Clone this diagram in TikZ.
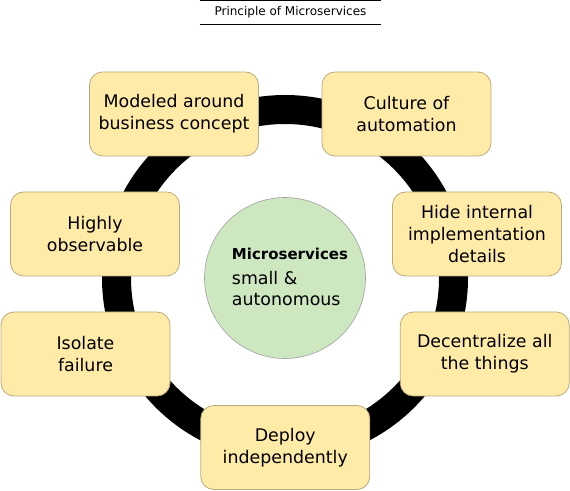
\documentclass[tikz,border=0pt]{standalone}
\usepackage{fontspec}
\setmainfont{DejaVu Sans}
\usetikzlibrary{positioning}
\definecolor{boxfill}{RGB}{255,235,168}
\definecolor{boxline}{RGB}{185,170,125}
\definecolor{hubfill}{RGB}{205,232,192}
\definecolor{hubline}{RGB}{160,160,160}
\begin{document}
\begin{tikzpicture}[
    x=1pt, y=1pt,
    boxnode/.style={
        rectangle, rounded corners=13pt, draw=boxline, fill=boxfill,
        line width=0.8pt, minimum width=169pt, minimum height=84pt,
        align=center, font=\fontsize{17.4}{22}\selectfont, inner sep=2pt
      },
    hubnode/.style={
        circle, draw=hubline, fill=hubfill, line width=0.6pt,
        minimum size=161pt, inner sep=0pt, align=left,
        font=\fontsize{17}{21.5}\selectfont
      },
  ]
  \useasboundingbox (0,0) rectangle (570,490);
  \node[minimum width=181pt, minimum height=23pt, inner sep=0pt,
    font=\fontsize{12}{14}\selectfont](title) at (290.5,477.5) {Principle of Microservices};
  \draw[line width=0.9pt] (title.north west) -- (title.north east);
  \draw[line width=0.9pt] (title.south west) -- (title.south east);
  \draw[line width=29pt] (285,212) circle (168.5);
  \node[hubnode](hub) at (285,212) {};
  \node[align=left, inner sep=0pt, font=\fontsize{17.4}{21.5}\selectfont](hubtext) at (290,213)
    {{\fontsize{15}{18}\selectfont\bfseries Microservices}\\[3pt]small \&\\autonomous};
  \node[boxnode](model) at (174,376) {Modeled around\\business concept};
  \node[boxnode](culture) at (406.5,376) {Culture of\\automation};
  \node[boxnode](hide) at (477,256) {Hide internal\\implementation\\details};
  \node[boxnode](decentral) at (484.75,136) {Decentralize all\\the things};
  \node[boxnode](deploy) at (285.3,42.5) {Deploy\\independently};
  \node[boxnode](isolate) at (85.5,136) {Isolate\\failure};
  \node[boxnode](observe) at (95,256) {Highly\\observable};
\end{tikzpicture}
\end{document}
